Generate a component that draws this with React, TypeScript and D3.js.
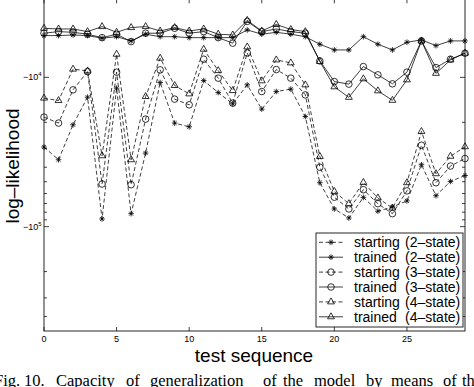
import * as d3 from "d3";

// log-likelihood per test sequence (0..29)
const startTwo = [
  -29310, -35630, -20780, -13570, -88820, -11810, -81850, -32140, -10830, -20240,
  -21430, -10510, -12640, -15040, -11230, -16320, -12450, -11990, -18290, -50780,
  -76130, -87460, -63680, -78760, -73830, -67210, -38480, -62030, -49770, -45440,
];
const trainedTwo = [
  -5250, -5250, -5200, -5250, -5470, -5340, -5700, -5140, -5340, -5340,
  -5420, -5420, -5420, -5420, -4810, -5140, -4990, -5140, -5340, -6000,
  -6550, -6550, -5340, -6000, -6550, -5820, -5610, -6130, -5700, -5700,
];
const startThree = [
  -18460, -20240, -12120, -9150, -51810, -9230, -52370, -19040, -8910, -13990,
  -15270, -7560, -10120, -14880, -6860, -12450, -8870, -10120, -13100, -39990,
  -63490, -76130, -56550, -70170, -81850, -57610, -28500, -50780, -39260, -34980,
];
const trainedThree = [
  -5060, -4940, -4990, -5140, -5420, -5140, -5760, -5060, -5060, -4690,
  -5060, -4940, -5420, -5900, -4220, -4940, -4740, -4940, -5060, -7760,
  -10670, -11100, -8470, -9620, -11050, -9230, -5700, -8600, -7560, -6890,
];
const startFour = [
  -13780, -14300, -8810, -9050, -33510, -7000, -35630, -13440, -7440, -11340,
  -12900, -6480, -9010, -12260, -6250, -10550, -7640, -8000, -11230, -33870,
  -58060, -70170, -50550, -64270, -74980, -50780, -23040, -44200, -33770, -29170,
];
const trainedFour = [
  -4690, -4740, -4740, -4940, -4570, -4990, -4640, -4570, -4890, -4640,
  -4890, -4740, -5140, -5200, -4150, -4890, -4420, -4780, -4940, -7820,
  -11570, -13610, -10230, -12310, -14250, -10390, -5700, -9400, -7640, -6890,
];

const xTicks = [0, 5, 10, 15, 20, 25];
const yMajor = [-1e4, -1e5];
const yMinor = [
  -2e4, -3e4, -4e4, -5e4, -6e4, -7e4, -8e4, -9e4,
  -2e5, -3e5, -4e5,
];

type Series = { name: string; states: string; values: number[]; marker: string; dashed: boolean };

const series: Series[] = [
  { name: "starting", states: "(2–state)", values: startTwo, marker: "star", dashed: true },
  { name: "trained", states: "(2–state)", values: trainedTwo, marker: "star", dashed: false },
  { name: "starting", states: "(3–state)", values: startThree, marker: "circle", dashed: true },
  { name: "trained", states: "(3–state)", values: trainedThree, marker: "circle", dashed: false },
  { name: "starting", states: "(4–state)", values: startFour, marker: "triangle", dashed: true },
  { name: "trained", states: "(4–state)", values: trainedFour, marker: "triangle", dashed: false },
];

const captionWords = ["Fig.", "10.", "Capacity", "of", "generalization", "of", "the", "model", "by", "means", "of", "the"];
const captionX = [-6, 24, 56, 126, 150, 263, 283, 314, 366, 391, 443, 462];

const width = 474;
const height = 387;
const margin = { top: -0.7, right: 9, bottom: 56, left: 44 };
const sans = "'Liberation Sans', Arial, Helvetica, sans-serif";

const markerPath = (kind: string) => {
  if (kind === "circle") return d3.symbol(d3.symbolCircle, 34)() as string;
  if (kind === "triangle") return d3.symbol(d3.symbolTriangle2, 34)() as string;
  return (d3.symbol(d3.symbolPlus, 12)() as string) + (d3.symbol(d3.symbolTimes, 12)() as string);
};

export default function App() {
  const x0 = margin.left;
  const x1 = width - margin.right;
  const y0 = margin.top;
  const y1 = height - margin.bottom;

  const xScale = d3.scaleLinear().domain([0, 29]).range([x0, x1]);
  const yScale = d3.scaleLog().domain([-3000, -500000]).range([y0, y1]);

  const line = d3
    .line<number>()
    .x((_, i) => xScale(i))
    .y((d) => yScale(d));

  const legend = { x: 316, y: 233, w: 147, h: 94, row: 14.9 };

  return (
    <svg
      width={width}
      height={height}
      style={{ position: "absolute", left: 0, top: 0, background: "#fff" }}
    >
      <rect x={0} y={0} width={width} height={height} fill="#fff" />

      {/* data */}
      {series.map((s, si) => (
        <g key={si}>
          <path
            d={line(s.values) as string}
            fill="none"
            stroke="#000"
            strokeWidth={0.75}
            strokeDasharray={s.dashed ? "4,2.5" : undefined}
          />
          {s.values.map((v, i) => (
            <path
              key={i}
              d={markerPath(s.marker)}
              transform={`translate(${xScale(i)},${yScale(v)})`}
              fill="none"
              stroke="#000"
              strokeWidth={0.8}
            />
          ))}
        </g>
      ))}

      {/* frame */}
      <rect x={x0} y={y0} width={x1 - x0} height={y1 - y0} fill="none" stroke="#111" strokeWidth={0.9} />

      {/* x ticks */}
      {xTicks.map((t) => (
        <g key={t}>
          <line x1={xScale(t)} x2={xScale(t)} y1={y1} y2={y1 - 4} stroke="#111" strokeWidth={0.8} />
          <line x1={xScale(t)} x2={xScale(t)} y1={y0} y2={y0 + 4} stroke="#111" strokeWidth={0.8} />
          <text x={xScale(t)} y={342} fontSize={9} fontFamily={sans} textAnchor="middle">
            {t}
          </text>
        </g>
      ))}

      {/* y ticks */}
      {yMinor.map((t) => (
        <g key={t}>
          <line x1={x0} x2={x0 + 3} y1={yScale(t)} y2={yScale(t)} stroke="#111" strokeWidth={0.8} />
          <line x1={x1} x2={x1 - 3} y1={yScale(t)} y2={yScale(t)} stroke="#111" strokeWidth={0.8} />
        </g>
      ))}
      {yMajor.map((t) => (
        <g key={t}>
          <line x1={x0} x2={x0 + 5} y1={yScale(t)} y2={yScale(t)} stroke="#111" strokeWidth={0.8} />
          <line x1={x1} x2={x1 - 5} y1={yScale(t)} y2={yScale(t)} stroke="#111" strokeWidth={0.8} />
          <text x={41.5} y={yScale(t) + 3} fontSize={9} fontFamily={sans} textAnchor="end">
            −10
            <tspan fontSize={6} dy={-4}>
              {Math.round(Math.log10(-t))}
            </tspan>
          </text>
        </g>
      ))}

      {/* axis titles */}
      <text x={254} y={362} fontSize={19} fontFamily={sans} textAnchor="middle">
        test sequence
      </text>
      <text
        transform={`translate(19,166) rotate(-90)`}
        fontSize={19}
        fontFamily={sans}
        textAnchor="middle"
      >
        log–likelihood
      </text>

      {/* legend */}
      <rect x={legend.x} y={legend.y} width={legend.w} height={legend.h} fill="#fff" stroke="#111" strokeWidth={0.9} />
      {series.map((s, si) => {
        const cy = legend.y + 9.3 + si * legend.row;
        return (
          <g key={si}>
            <line
              x1={legend.x + 3}
              x2={legend.x + 27}
              y1={cy}
              y2={cy}
              stroke="#000"
              strokeWidth={0.75}
              strokeDasharray={s.dashed ? "4,2.5" : undefined}
            />
            <path
              d={markerPath(s.marker)}
              transform={`translate(${legend.x + 15},${cy})`}
              fill="none"
              stroke="#000"
              strokeWidth={0.8}
            />
            <text x={legend.x + 38} y={cy + 5} fontSize={14} fontFamily={sans}>
              {s.name}
            </text>
            <text x={legend.x + 89} y={cy + 5} fontSize={14} fontFamily={sans}>
              {s.states}
            </text>
          </g>
        );
      })}

      {/* caption */}
      <text y={386} fontSize={16.5} fontFamily="'Liberation Serif', 'Times New Roman', serif">
        {captionWords.map((w, i) => (
          <tspan key={i} x={captionX[i]}>
            {w}
          </tspan>
        ))}
      </text>
    </svg>
  );
}
